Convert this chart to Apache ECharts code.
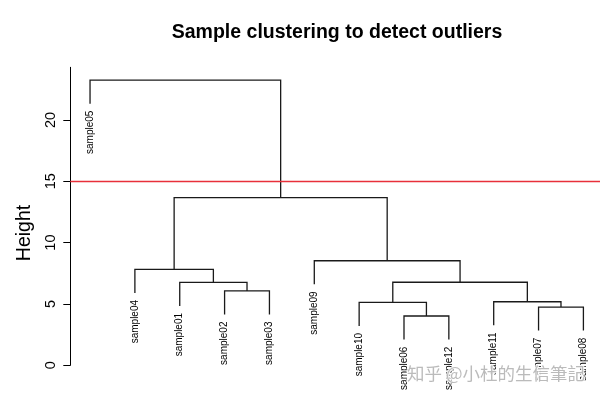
<!DOCTYPE html>
<html><head><meta charset="utf-8">
<script src="https://cdn.jsdelivr.net/npm/echarts@6/dist/echarts.min.js"></script>
<style>html,body{margin:0;padding:0;background:#fff}#c{width:600px;height:396px}</style>
</head><body><div id="c"></div>
<script>
// leaves in plotting order
const leafLabels = ['sample05','sample04','sample01','sample02','sample03','sample09','sample10','sample06','sample12','sample11','sample07','sample08'];
// merge steps: negative = leaf (1-based position in leafLabels), positive = earlier merge (1-based)
const mergeLeft   = [-4, -8, -11, -3, -7, -10, 5, -2, -6, 8, -1];
const mergeRight  = [-5, -9, -12,  1,  2,   3, 6,  4,  7, 9, 10];
const mergeHeight = [6.06, 4.02, 4.75, 6.76, 5.13, 5.18, 6.77, 7.82, 8.52, 13.66, 23.25];
const yTicks = [0, 5, 10, 15, 20];
const cutHeight = 15;
const titleText = 'Sample clustering to detect outliers';
const yName = 'Height';
const watermark = '知乎 @小杜的生信筆記';

const hang = 0.1 * (Math.max(...mergeHeight) - Math.min(...mergeHeight));
const mergeX = [];
const segs = [];
const leafEnds = [];
for (let i = 0; i < mergeHeight.length; i++) {
  const h = mergeHeight[i];
  const side = c => {
    if (c < 0) {
      const x = -c, y = h - hang;
      leafEnds.push([x, y, leafLabels[x - 1]]);
      return [x, y];
    }
    return [mergeX[c - 1], mergeHeight[c - 1]];
  };
  const L = side(mergeLeft[i]), R = side(mergeRight[i]);
  mergeX.push((L[0] + R[0]) / 2);
  segs.push([L[0], L[1], R[0], R[1], h]);
}

const chart = echarts.init(document.getElementById('c'), null, {renderer: 'canvas'});
const FONT = 'Liberation Sans, Arial, sans-serif';
chart.setOption({
  animation: false,
  backgroundColor: '#fff',
  grid: {left: 70.3, right: 0, top: 67.3, bottom: 30.7, containLabel: false},
  xAxis: {type: 'value', min: 0.56, max: 12.37, show: false},
  yAxis: {
    type: 'value', min: 0, max: 24.29,
    axisLine: {show: true, lineStyle: {color: '#000', width: 1}},
    axisTick: {show: true, length: 7, customValues: yTicks, lineStyle: {color: '#000'}},
    axisLabel: {customValues: yTicks, rotate: 90, fontSize: 14.5, fontFamily: FONT, color: '#000', margin: 12},
    splitLine: {show: false}
  },
  graphic: [
    {type: 'text', x: 337, y: 33, style: {text: titleText, font: 'bold 19.5px ' + FONT, fill: '#000', textAlign: 'center', textVerticalAlign: 'middle'}},
    {type: 'text', x: 25, y: 233, rotation: Math.PI / 2, style: {text: yName, font: '19.5px ' + FONT, fill: '#000', textAlign: 'center', textVerticalAlign: 'middle'}},
    {type: 'text', x: 407, y: 373, z: 100, style: {text: watermark, font: '17.5px "Noto Sans CJK SC"', fill: 'rgba(170,170,170,0.8)', stroke: 'rgba(255,255,255,0.9)', lineWidth: 2, textAlign: 'left', textVerticalAlign: 'middle'}}
  ],
  series: [
    {
      type: 'custom', coordinateSystem: 'cartesian2d', clip: false,
      data: segs,
      renderItem: function (params, api) {
        const a = api.coord([api.value(0), api.value(1)]);
        const b = api.coord([api.value(0), api.value(4)]);
        const c = api.coord([api.value(2), api.value(4)]);
        const d = api.coord([api.value(2), api.value(3)]);
        return {type: 'polyline', shape: {points: [a, b, c, d]}, style: {stroke: '#1a1a1a', lineWidth: 1.3, fill: null}};
      },
      markLine: {
        silent: true, symbol: 'none', label: {show: false},
        lineStyle: {color: '#e8303a', width: 1.3, type: 'solid'},
        data: [{yAxis: cutHeight}]
      }
    },
    {
      type: 'custom', coordinateSystem: 'cartesian2d', clip: false,
      data: leafEnds,
      renderItem: function (params, api) {
        const p = api.coord([api.value(0), api.value(1)]);
        return {type: 'text', x: p[0], y: p[1] + 7, rotation: Math.PI / 2,
          style: {text: leafEnds[params.dataIndex][2], font: '10px ' + FONT, fill: '#000', textAlign: 'right', textVerticalAlign: 'middle'}};
      }
    }
  ]
});
</script></body></html>
